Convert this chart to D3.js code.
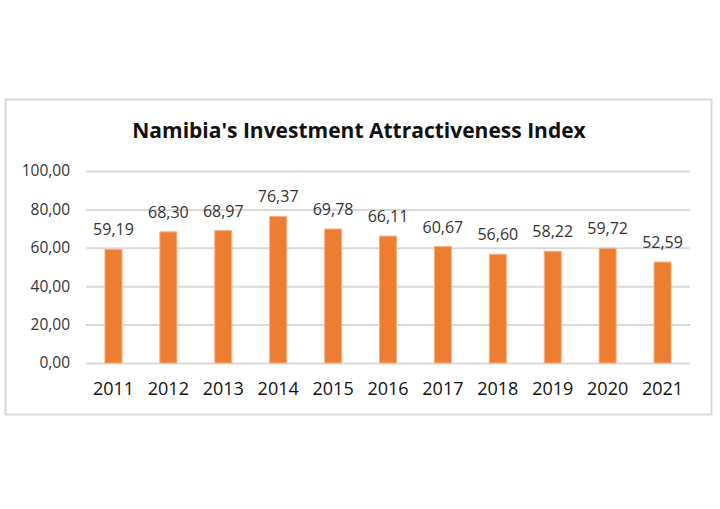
<!DOCTYPE html>
<html>
<head>
<meta charset="utf-8">
<script src="https://cdn.jsdelivr.net/npm/d3@7"></script>
<style>
  body { margin: 0; background: #fff; }
</style>
</head>
<body>
<div id="chart"></div>
<script>
// data
const years = ["2011", "2012", "2013", "2014", "2015", "2016", "2017", "2018", "2019", "2020", "2021"];
const scores = [59.19, 68.30, 68.97, 76.37, 69.78, 66.11, 60.67, 56.60, 58.22, 59.72, 52.59];
const yTicks = [0, 20, 40, 60, 80, 100];
const title = "Namibia's Investment Attractiveness Index";

const W = 720, H = 509;
const plot = { left: 86, right: 690, top: 171, bottom: 363 };
const fmt = v => v.toFixed(2).replace(".", ",");

let svg = d3.select("#chart").append("svg")
    .attr("width", W)
    .attr("height", H)
    .style("font-family", "'Open Sans', sans-serif");

// outer frame
svg.append("rect")
    .attr("x", 5.5).attr("y", 99.5)
    .attr("width", 706).attr("height", 315)
    .attr("fill", "#fff")
    .attr("stroke", "#d9d9d9")
    .attr("stroke-width", 2);

svg.append("text")
    .attr("x", 359)
    .attr("y", 138)
    .attr("text-anchor", "middle")
    .style("font-size", "21px")
    .style("font-weight", "bold")
    .attr("fill", "#111")
    .text(title);

let x = d3.scaleBand()
    .domain(years)
    .range([plot.left, plot.right])
    .paddingInner(0.69)
    .paddingOuter(0.345);

let y = d3.scaleLinear()
    .domain([0, 100])
    .range([plot.bottom, plot.top]);

// gridlines + y labels
let yAxis = svg.append("g")
    .attr("transform", "translate(" + plot.left + ",0)")
    .call(d3.axisLeft(y).tickValues(yTicks).tickFormat(fmt)
        .tickSize(-(plot.right - plot.left)).tickPadding(16));
yAxis.select(".domain").remove();
yAxis.selectAll(".tick line").attr("stroke", "#d9d9d9").attr("stroke-width", 2);
yAxis.selectAll(".tick text")
    .style("font-size", "15.5px")
    .style("font-family", "'Open Sans', sans-serif")
    .attr("fill", "#333");

// x labels
let xAxis = svg.append("g")
    .attr("transform", "translate(0," + plot.bottom + ")")
    .call(d3.axisBottom(x).tickSize(0).tickPadding(19));
xAxis.select(".domain").remove();
xAxis.selectAll(".tick text")
    .style("font-size", "18px")
    .style("font-family", "'Open Sans', sans-serif")
    .attr("fill", "#111");

// bars
svg.append("g")
    .selectAll("rect")
    .data(scores)
    .enter()
    .append("rect")
    .attr("x", (d, i) => x(years[i]))
    .attr("y", d => y(d))
    .attr("width", x.bandwidth())
    .attr("height", d => y(0) - y(d))
    .attr("fill", "#ed7d31")
    .attr("stroke", "#f6b183")
    .attr("stroke-width", 1);

// value labels
svg.append("g")
    .selectAll("text")
    .data(scores)
    .enter()
    .append("text")
    .attr("x", (d, i) => x(years[i]) + x.bandwidth() / 2)
    .attr("y", d => y(d) - 14)
    .attr("text-anchor", "middle")
    .style("font-size", "16px")
    .attr("fill", "#333")
    .text(fmt);
</script>
</body>
</html>
